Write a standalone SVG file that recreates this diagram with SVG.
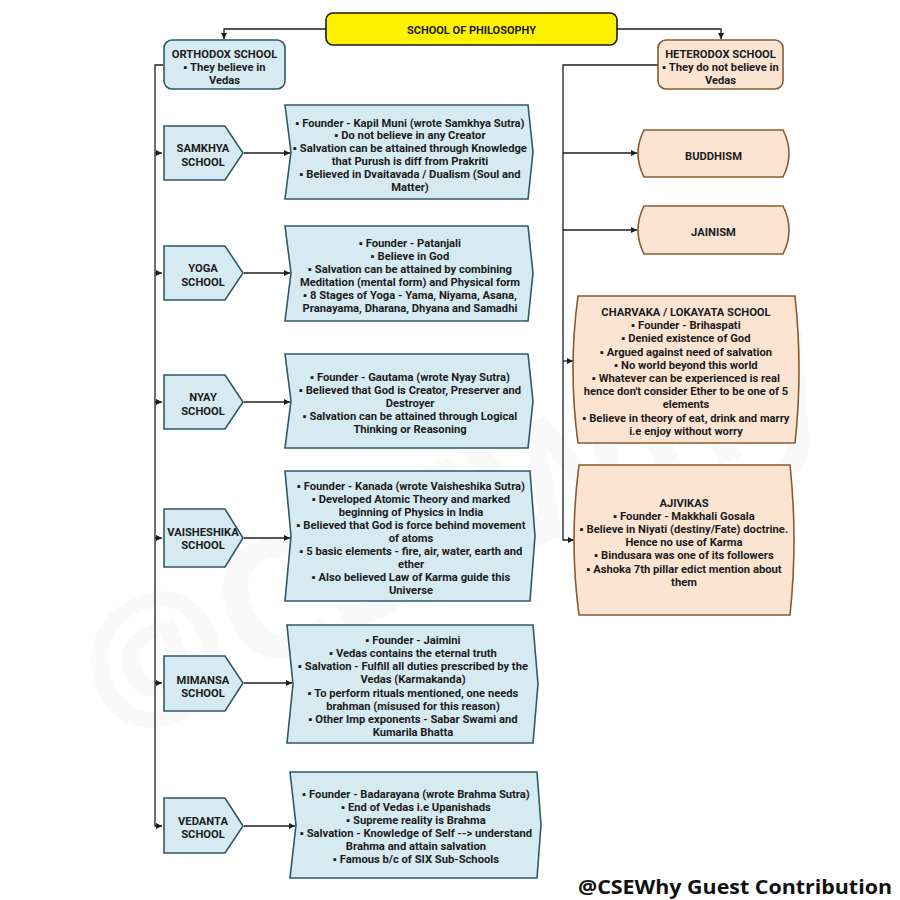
<svg xmlns="http://www.w3.org/2000/svg" width="900" height="900" viewBox="0 0 900 900">
<style>
.t{font-family:Roboto,"Liberation Sans",sans-serif;font-weight:bold;font-size:11.2px;fill:#1c1c1c;text-anchor:middle}
.h{font-size:11.2px}
.blue{fill:#d6eaf2;stroke:#2e5a68;stroke-width:1.6}
.or{fill:#fce4d3;stroke:#8a5a2e;stroke-width:1.6}
.c{fill:none;stroke:#1e1e1e;stroke-width:1.3}
</style>
<defs>
<marker id="ar" markerUnits="userSpaceOnUse" markerWidth="8" markerHeight="8" refX="6" refY="3" orient="auto">
<path d="M0,0 L6,3 L0,6 Z" fill="#1e1e1e"/>
</marker>
</defs>
<rect width="900" height="900" fill="#ffffff"/>
<text x="450" y="580" transform="rotate(-24 450 520)" font-family="'Open Sans','Liberation Sans',sans-serif" font-weight="bold" font-size="165" fill="#000" fill-opacity="0.025" text-anchor="middle">@CSEWhy</text>

<g id="connectors" class="c">
<path d="M326,29 H224 V39" marker-end="url(#ar)"/>
<path d="M617,29 H721 V39" marker-end="url(#ar)"/>
<path d="M163,65 H155 V826 H162" marker-end="url(#ar)"/>
<path d="M155,153 H162" marker-end="url(#ar)"/>
<path d="M155,273 H162" marker-end="url(#ar)"/>
<path d="M155,402 H162" marker-end="url(#ar)"/>
<path d="M155,538 H162" marker-end="url(#ar)"/>
<path d="M155,683 H162" marker-end="url(#ar)"/>
<path d="M244,153 H290" marker-end="url(#ar)"/>
<path d="M244,273 H290" marker-end="url(#ar)"/>
<path d="M244,402 H290" marker-end="url(#ar)"/>
<path d="M244,538 H290" marker-end="url(#ar)"/>
<path d="M244,683 H292" marker-end="url(#ar)"/>
<path d="M244,826 H295" marker-end="url(#ar)"/>
<path d="M658,65 H563 V540 H574" marker-end="url(#ar)"/>
<path d="M563,153 H637" marker-end="url(#ar)"/>
<path d="M563,230 H637" marker-end="url(#ar)"/>
<path d="M563,361 H573" marker-end="url(#ar)"/>
</g>

<g id="title">
<rect x="326" y="13" width="291" height="32" rx="7" fill="#fff200" stroke="#1a1a1a" stroke-width="1.6"/>
<text class="t" x="471.5" y="33.8" style="font-size:11px">SCHOOL OF PHILOSOPHY</text>
</g>

<g id="orthodox">
<rect class="blue" x="164" y="40" width="121" height="49" rx="8"/>
<text class="t h" x="224.5" y="57.5">ORTHODOX SCHOOL</text>
<text class="t h" x="224.5" y="71">▪ They believe in</text>
<text class="t h" x="224.5" y="84">Vedas</text>
</g>

<g id="heterodox">
<rect class="or" x="658" y="40" width="125" height="49" rx="8"/>
<text class="t h" x="720.5" y="57.5">HETERODOX SCHOOL</text>
<text class="t h" x="720.5" y="71">▪ They do not believe in</text>
<text class="t h" x="720.5" y="84">Vedas</text>
</g>

<g id="samkhya">
<path class="blue" d="M164,126 H225 L243,153 L225,180 H164 Z"/>
<text class="t h" x="203" y="152">SAMKHYA</text>
<text class="t h" x="203" y="165.5">SCHOOL</text>
</g>
<g id="samkhya-info">
<path class="blue" d="M285,105 H528 L533,152 L528,199 H285 L291,152 Z"/>
<text class="t" x="410" y="126.5">▪ Founder - Kapil Muni (wrote Samkhya Sutra)</text>
<text class="t" x="410" y="139.4">▪ Do not believe in any Creator</text>
<text class="t" x="410" y="152.2">▪ Salvation can be attained through Knowledge</text>
<text class="t" x="410" y="165.1">that Purush is diff from Prakriti</text>
<text class="t" x="410" y="177.9">▪ Believed in Dvaitavada / Dualism (Soul and</text>
<text class="t" x="410" y="190.8">Matter)</text>
</g>

<g id="yoga">
<path class="blue" d="M164,246 H225 L243,273 L225,300 H164 Z"/>
<text class="t h" x="203" y="272">YOGA</text>
<text class="t h" x="203" y="285.5">SCHOOL</text>
</g>
<g id="yoga-info">
<path class="blue" d="M285,226 H528 L533,273 L528,321 H285 L291,273 Z"/>
<text class="t" x="410" y="246.5">▪ Founder - Patanjali</text>
<text class="t" x="410" y="259.6">▪ Believe in God</text>
<text class="t" x="410" y="272.7">▪ Salvation can be attained by combining</text>
<text class="t" x="410" y="285.8">Meditation (mental form) and Physical form</text>
<text class="t" x="410" y="298.9">▪ 8 Stages of Yoga - Yama, Niyama, Asana,</text>
<text class="t" x="410" y="312">Pranayama, Dharana, Dhyana and Samadhi</text>
</g>

<g id="nyay">
<path class="blue" d="M164,375 H225 L243,402 L225,429 H164 Z"/>
<text class="t h" x="203" y="401">NYAY</text>
<text class="t h" x="203" y="414.5">SCHOOL</text>
</g>
<g id="nyay-info">
<path class="blue" d="M285,354 H528 L533,401 L528,448 H285 L291,401 Z"/>
<text class="t" x="410" y="380.7">▪ Founder - Gautama (wrote Nyay Sutra)</text>
<text class="t" x="410" y="393.9">▪ Believed that God is Creator, Preserver and</text>
<text class="t" x="410" y="407">Destroyer</text>
<text class="t" x="410" y="420.2">▪ Salvation can be attained through Logical</text>
<text class="t" x="410" y="433.3">Thinking or Reasoning</text>
</g>

<g id="vaisheshika">
<path class="blue" d="M164,509 H225 L243,538 L225,567 H164 Z"/>
<text class="t h" x="203" y="536">VAISHESHIKA</text>
<text class="t h" x="203" y="549">SCHOOL</text>
</g>
<g id="vaisheshika-info">
<path class="blue" d="M285,471 H530 L535,536 L530,601 H285 L291,536 Z"/>
<text class="t" x="411" y="489.7">▪ Founder - Kanada (wrote Vaisheshika Sutra)</text>
<text class="t" x="411" y="502.7">▪ Developed Atomic Theory and marked</text>
<text class="t" x="411" y="515.8">beginning of Physics in India</text>
<text class="t" x="411" y="528.8">▪ Believed that God is force behind movement</text>
<text class="t" x="411" y="541.9">of atoms</text>
<text class="t" x="411" y="554.9">▪ 5 basic elements - fire, air, water, earth and</text>
<text class="t" x="411" y="567.9">ether</text>
<text class="t" x="411" y="581">▪ Also believed Law of Karma guide this</text>
<text class="t" x="411" y="594">Universe</text>
</g>

<g id="mimansa">
<path class="blue" d="M164,656 H225 L243,683 L225,711 H164 Z"/>
<text class="t h" x="203" y="684">MIMANSA</text>
<text class="t h" x="203" y="697">SCHOOL</text>
</g>
<g id="mimansa-info">
<path class="blue" d="M287,625 H533 L538,684 L533,743 H287 L293,684 Z"/>
<text class="t" x="413" y="644">▪ Founder - Jaimini</text>
<text class="t" x="413" y="657.1">▪ Vedas contains the eternal truth</text>
<text class="t" x="413" y="670.3">▪ Salvation - Fulfill all duties prescribed by the</text>
<text class="t" x="413" y="683.4">Vedas (Karmakanda)</text>
<text class="t" x="413" y="696.6">▪ To perform rituals mentioned, one needs</text>
<text class="t" x="413" y="709.7">brahman (misused for this reason)</text>
<text class="t" x="413" y="722.8">▪ Other Imp exponents - Sabar Swami and</text>
<text class="t" x="413" y="736">Kumarila Bhatta</text>
</g>

<g id="vedanta">
<path class="blue" d="M164,798 H225 L243,826 L225,853 H164 Z"/>
<text class="t h" x="203" y="825">VEDANTA</text>
<text class="t h" x="203" y="838">SCHOOL</text>
</g>
<g id="vedanta-info">
<path class="blue" d="M290,772 H537 L541,825 L537,878 H290 L296,825 Z"/>
<text class="t" x="416" y="798.3">▪ Founder - Badarayana (wrote Brahma Sutra)</text>
<text class="t" x="416" y="811.3">▪ End of Vedas i.e Upanishads</text>
<text class="t" x="416" y="824.3">▪ Supreme reality is Brahma</text>
<text class="t" x="416" y="837.3">▪ Salvation - Knowledge of Self --&gt; understand</text>
<text class="t" x="416" y="850.3">Brahma and attain salvation</text>
<text class="t" x="416" y="863.3">▪ Famous b/c of SIX Sub-Schools</text>
</g>

<g id="buddhism">
<path class="or" d="M644,130 H783 Q795,153.5 783,177 H644 Q632,153.5 644,130 Z"/>
<text class="t h" x="713.5" y="159.5">BUDDHISM</text>
</g>
<g id="jainism">
<path class="or" d="M644,206 H783 Q795,230 783,254 H644 Q632,230 644,206 Z"/>
<text class="t h" x="713.5" y="235.5">JAINISM</text>
</g>

<g id="charvaka">
<path class="or" d="M578,296 H795 Q803,369.5 795,443 H578 Q568,369.5 578,296 Z"/>
<text class="t" x="686" y="316">CHARVAKA / LOKAYATA SCHOOL</text>
<text class="t" x="686" y="329.2">▪ Founder - Brihaspati</text>
<text class="t" x="686" y="342.4">▪ Denied existence of God</text>
<text class="t" x="686" y="355.6">▪ Argued against need of salvation</text>
<text class="t" x="686" y="368.8">▪ No world beyond this world</text>
<text class="t" x="686" y="382">▪ Whatever can be experienced is real</text>
<text class="t" x="686" y="395.2">hence don't consider Ether to be one of 5</text>
<text class="t" x="686" y="408.4">elements</text>
<text class="t" x="686" y="421.6">▪ Believe in theory of eat, drink and marry</text>
<text class="t" x="686" y="434.8">i.e enjoy without worry</text>
</g>

<g id="ajivikas">
<path class="or" d="M579,465 H790 Q798,540 790,615 H579 Q569,540 579,465 Z"/>
<text class="t" x="684" y="506.7">AJIVIKAS</text>
<text class="t" x="684" y="519.9">▪ Founder - Makkhali Gosala</text>
<text class="t" x="684" y="533">▪ Believe in Niyati (destiny/Fate) doctrine.</text>
<text class="t" x="684" y="546.2">Hence no use of Karma</text>
<text class="t" x="684" y="559.4">▪ Bindusara was one of its followers</text>
<text class="t" x="684" y="572.5">▪ Ashoka 7th pillar edict mention about</text>
<text class="t" x="684" y="585.7">them</text>
</g>

<text x="578" y="894" font-family="'Open Sans','Liberation Sans',sans-serif" font-weight="bold" font-size="20" fill="#111" textLength="314" lengthAdjust="spacingAndGlyphs">@CSEWhy Guest Contribution</text>
</svg>
